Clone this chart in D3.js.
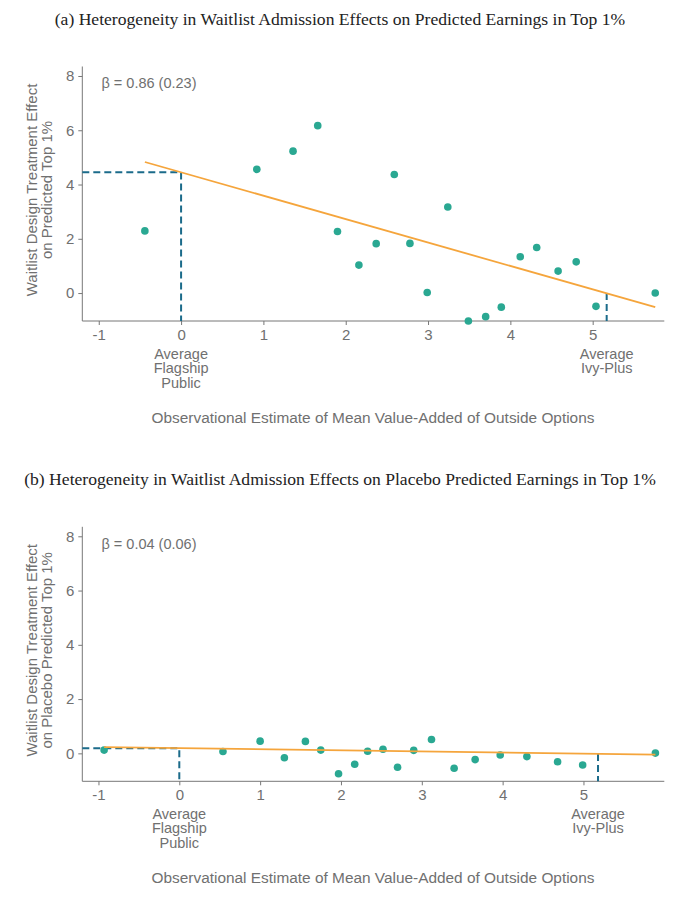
<!DOCTYPE html>
<html>
<head>
<meta charset="utf-8">
<script src="https://cdn.jsdelivr.net/npm/d3@7"></script>
<style>
  body { margin: 0; background: #fff; }
  svg { display: block; }
  .tick text { font-family: "Liberation Sans", Arial, sans-serif; }
</style>
</head>
<body>
<svg width="687" height="902"></svg>
<script>
// panel (a): outside-option value-added vs treatment effect on predicted top 1%
const xA = [-0.44, 0.92, 1.36, 1.66, 1.90, 2.16, 2.37, 2.59, 2.78, 2.99, 3.24, 3.49, 3.70, 3.89, 4.12, 4.32, 4.58, 4.80, 5.04, 5.76];
const yA = [2.29, 4.56, 5.23, 6.17, 2.27, 1.03, 1.82, 4.37, 1.83, 0.02, 3.17, -1.03, -0.87, -0.52, 1.34, 1.68, 0.81, 1.15, -0.49, 0.00];
const fitAX = [-0.44, 5.76];
const fitAY = [4.83, -0.52];
const refAX = [0, 5.17];   // avg flagship public, avg ivy-plus
const refAY = [4.45, 0.00];

// panel (b): placebo
const xB = [-0.93, 0.54, 1.00, 1.30, 1.56, 1.75, 1.97, 2.17, 2.33, 2.52, 2.70, 2.90, 3.12, 3.40, 3.66, 3.97, 4.30, 4.68, 4.99, 5.89];
const yB = [0.12, 0.07, 0.45, -0.16, 0.44, 0.12, -0.75, -0.40, 0.08, 0.15, -0.51, 0.11, 0.51, -0.55, -0.23, -0.06, -0.12, -0.31, -0.43, 0.01];
const fitBX = [-0.93, 5.89];
const fitBY = [0.23, -0.05];
const refBX = [0, 5.18];
const refBY = [0.19, -0.02];

const xTicks = [-1, 0, 1, 2, 3, 4, 5];
const yTicks = [0, 2, 4, 6, 8];

const svg = d3.select('svg');
const grey = '#707070';
const sans = '"Liberation Sans", Arial, sans-serif';
const fmt = d => String(d); // plain hyphen minus like the original

function panel(opt) {
  const x = d3.scaleLinear().domain(opt.xDom).range([82.3, 664.3]);
  const y = d3.scaleLinear().domain([-1.03, 8.35]).range([opt.bottom, opt.bottom - 254.5]);
  const g = svg.append('g');

  // title
  svg.append('text')
    .attr('x', 340).attr('y', opt.titleY)
    .attr('text-anchor', 'middle')
    .attr('font-family', '"Liberation Serif", "Times New Roman", serif')
    .attr('font-size', 17.6).attr('fill', '#222')
    .text(opt.title);

  // axes
  const xAxis = g.append('g').attr('transform', `translate(0,${opt.bottom})`)
    .call(d3.axisBottom(x).tickValues(xTicks).tickSize(4).tickPadding(4).tickFormat(fmt));
  const yAxis = g.append('g').attr('transform', 'translate(82.3,0)')
    .call(d3.axisLeft(y).tickValues(yTicks).tickSize(4).tickPadding(4).tickFormat(fmt));
  [xAxis, yAxis].forEach(a => {
    a.selectAll('.tick line').attr('stroke', '#777');
    a.selectAll('.tick text').attr('fill', grey).attr('font-size', 15);
    a.select('.domain').attr('stroke', '#777');
  });
  // plain axis lines (no end caps)
  xAxis.select('.domain').attr('d', `M82.3,0H664.3`);
  yAxis.select('.domain').attr('d', `M0,${opt.bottom}V${opt.bottom - 254.5}`);

  // reference dashed lines
  const dash = '#1b6b8a';
  g.append('path')
    .attr('d', `M${x.range()[0]},${y(opt.refY[0])}H${x(opt.refX[0])}V${opt.bottom}`)
    .attr('fill', 'none').attr('stroke', dash).attr('stroke-width', 2).attr('stroke-dasharray', '7,4');
  g.append('line')
    .attr('x1', x(opt.refX[1])).attr('x2', x(opt.refX[1]))
    .attr('y1', y(opt.refY[1])).attr('y2', opt.bottom)
    .attr('stroke', dash).attr('stroke-width', 2).attr('stroke-dasharray', '7,4');

  // points
  g.selectAll('.dot').data(opt.xs.map((v, i) => [v, opt.ys[i]])).enter()
    .append('circle').classed('dot', true)
    .attr('cx', d => x(d[0])).attr('cy', d => y(d[1]))
    .attr('r', 3.8).attr('fill', '#2aa892');

  // fit line
  g.append('line')
    .attr('x1', x(opt.fitX[0])).attr('y1', y(opt.fitY[0]))
    .attr('x2', x(opt.fitX[1])).attr('y2', y(opt.fitY[1]))
    .attr('stroke', '#f5a53c').attr('stroke-width', 1.8);

  // beta annotation
  g.append('text').attr('x', 101.5).attr('y', y(7.55))
    .attr('font-family', sans).attr('font-size', 14.5).attr('fill', grey)
    .text(opt.beta);

  // under-axis labels
  const lab = (xv, lines) => {
    const t = g.append('text').attr('text-anchor', 'middle')
      .attr('font-family', sans).attr('font-size', 14.5).attr('fill', grey);
    lines.forEach((s, i) => t.append('tspan').attr('x', x(xv)).attr('y', opt.bottom + 37.5 + i * 14.5).text(s));
  };
  lab(opt.refX[0], ['Average', 'Flagship', 'Public']);
  lab(opt.refX[1], ['Average', 'Ivy-Plus']);

  // axis titles
  g.append('text').attr('x', 373).attr('y', opt.bottom + 102)
    .attr('text-anchor', 'middle').attr('font-family', sans).attr('font-size', 15.4).attr('fill', grey)
    .text('Observational Estimate of Mean Value-Added of Outside Options');
  const yt = g.append('text').attr('transform', `translate(0,${opt.bottom - 131}) rotate(-90)`)
    .attr('text-anchor', 'middle').attr('font-family', sans).attr('font-size', 15).attr('fill', grey);
  yt.append('tspan').attr('x', 0).attr('y', 37).text('Waitlist Design Treatment Effect');
  yt.append('tspan').attr('x', 0).attr('y', 51.5).text(opt.yLine2);
}

panel({
  title: '(a) Heterogeneity in Waitlist Admission Effects on Predicted Earnings in Top 1%',
  titleY: 25, bottom: 321, xDom: [-1.2, 5.87],
  xs: xA, ys: yA, fitX: fitAX, fitY: fitAY, refX: refAX, refY: refAY,
  beta: 'β = 0.86 (0.23)', yLine2: 'on Predicted Top 1%'
});
panel({
  title: '(b) Heterogeneity in Waitlist Admission Effects on Placebo Predicted Earnings in Top 1%',
  titleY: 485, bottom: 781.3, xDom: [-1.2, 6.0],
  xs: xB, ys: yB, fitX: fitBX, fitY: fitBY, refX: refBX, refY: refBY,
  beta: 'β = 0.04 (0.06)', yLine2: 'on Placebo Predicted Top 1%'
});
</script>
</body>
</html>
